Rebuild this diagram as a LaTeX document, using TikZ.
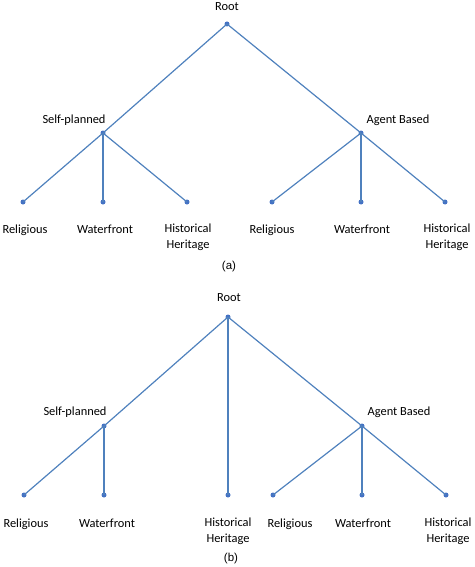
\documentclass[tikz,border=0pt]{standalone}
\usepackage{fontspec}
\setmainfont{Carlito}
\newfontfamily\capfont{Liberation Sans}
\definecolor{edgeblue}{RGB}{79,129,189}
\definecolor{dotblue}{RGB}{68,114,196}
\begin{document}
\begin{tikzpicture}[x=1pt,y=-1pt,
  dotnode/.style={circle,fill=dotblue,inner sep=0pt,minimum size=5pt},
  lbl/.style={font=\fontsize{12.4}{16}\selectfont,inner sep=0pt,align=center,text=black},
  caplbl/.style={font=\capfont\fontsize{11.5}{14}\selectfont,inner sep=0pt,text=black},
  edge/.style={draw=edgeblue,line width=1.2pt}]
\useasboundingbox (0,0) rectangle (474,567);
% ---------- (a) ----------
\node[dotnode] (ar) at (227,24) {};
\node[dotnode] (as) at (103,133) {};
\node[dotnode] (aa) at (361,133) {};
\node[dotnode] (a1) at (23,202) {};
\node[dotnode] (a2) at (103,202) {};
\node[dotnode] (a3) at (187,202) {};
\node[dotnode] (a4) at (272,202) {};
\node[dotnode] (a5) at (361,202) {};
\node[dotnode] (a6) at (445,202) {};
\draw[edge] (ar.center) -- (as.center);
\draw[edge] (ar.center) -- (aa.center);
\draw[edge] (as.center) -- (a1.center);
\draw[edge] (as.center) -- (a2.center);
\draw[edge] (as.center) -- (a3.center);
\draw[edge] (aa.center) -- (a4.center);
\draw[edge] (aa.center) -- (a5.center);
\draw[edge] (aa.center) -- (a6.center);
\node[lbl] (art) at (227,7) {Root};
\node[lbl] (ast) at (74,120) {Self-planned};
\node[lbl] (aat) at (398,120) {Agent Based};
\node[lbl] (a1t) at (25,230) {Religious};
\node[lbl] (a2t) at (105,229) {Waterfront};
\node[lbl] (a3t) at (188,237) {Historical\\Heritage};
\node[lbl] (a4t) at (272,230) {Religious};
\node[lbl] (a5t) at (362,229) {Waterfront};
\node[lbl] (a6t) at (447,237) {Historical\\Heritage};
\node[caplbl] (acap) at (229,267) {(a)};
% ---------- (b) ----------
\node[dotnode] (br) at (228,317) {};
\node[dotnode] (bs) at (104,426) {};
\node[dotnode] (ba) at (362,426) {};
\node[dotnode] (b1) at (24,495) {};
\node[dotnode] (b2) at (104,495) {};
\node[dotnode] (b3) at (228,495) {};
\node[dotnode] (b4) at (273,495) {};
\node[dotnode] (b5) at (362,495) {};
\node[dotnode] (b6) at (446,495) {};
\draw[edge] (br.center) -- (bs.center);
\draw[edge] (br.center) -- (ba.center);
\draw[edge] (br.center) -- (b3.center);
\draw[edge] (bs.center) -- (b1.center);
\draw[edge] (bs.center) -- (b2.center);
\draw[edge] (ba.center) -- (b4.center);
\draw[edge] (ba.center) -- (b5.center);
\draw[edge] (ba.center) -- (b6.center);
\node[lbl] (brt) at (229,298) {Root};
\node[lbl] (bst) at (75,412) {Self-planned};
\node[lbl] (bat) at (399,412) {Agent Based};
\node[lbl] (b1t) at (26,524) {Religious};
\node[lbl] (b2t) at (107,523) {Waterfront};
\node[lbl] (b3t) at (228,531) {Historical\\Heritage};
\node[lbl] (b4t) at (290,524) {Religious};
\node[lbl] (b5t) at (363,523) {Waterfront};
\node[lbl] (b6t) at (448,531) {Historical\\Heritage};
\node[caplbl] (bcap) at (231,559) {(b)};
\end{tikzpicture}
\end{document}
